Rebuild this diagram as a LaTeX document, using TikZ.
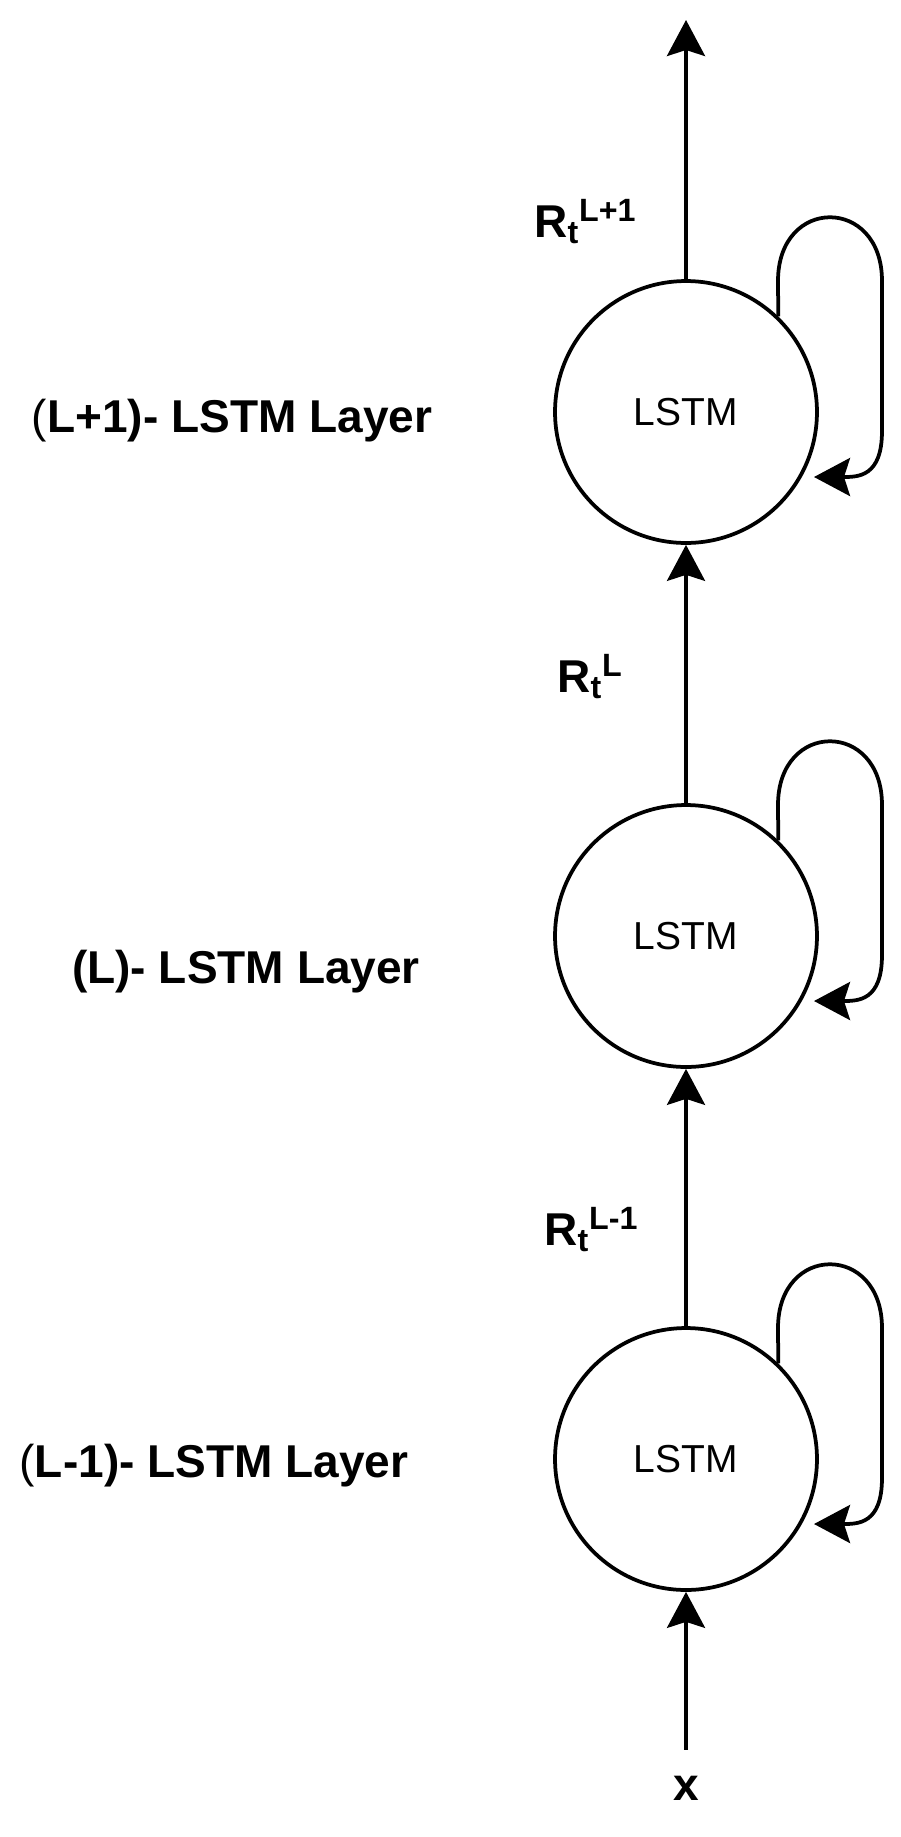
\documentclass[tikz,border=0pt]{standalone}
\usepackage{fontspec}
\setmainfont{Liberation Sans}
\usetikzlibrary{arrows.meta,calc}

\begin{document}
\begin{tikzpicture}[x=0.02cm, y=-0.02cm,
		lstm/.style={circle, draw, line width=0.075cm, minimum size=5.24cm, inner sep=0pt, font=\fontsize{22.2pt}{26pt}\selectfont},
		layer/.style={anchor=base, inner sep=0pt, font=\fontsize{26.2pt}{30pt}\selectfont\bfseries},
		rlabel/.style={anchor=base west, inner sep=0pt, font=\fontsize{26.2pt}{30pt}\selectfont\bfseries},
		flow/.style={line width=0.075cm, -{Stealth[length=0.72cm, width=0.76cm, inset=0.12cm]}}]
			\useasboundingbox (0,0) rectangle (900,1837);

			% Draw LSTM cells
			\node[lstm] (low) at (686,1459) {LSTM};
			\node[lstm] (mid) at (686,936) {LSTM};
			\node[lstm] (up) at (686,412) {LSTM};

			% Draw input and output
			\node[inner sep=0.52cm, font=\fontsize{26.2pt}{30pt}\selectfont\bfseries] (in) at (686,1788) {x};
			\coordinate (out) at (686,20);

			% Draw layer names
			\node[layer] (uplabel) at (232,432) {{\mdseries(}L+1)- LSTM Layer};
			\node[layer] (midlabel) at (246,983) {(L)- LSTM Layer};
			\node[layer] (lowlabel) at (214,1477) {{\mdseries(}L-1)- LSTM Layer};

			% Draw outputs of the layers
			\node[rlabel] (rup) at (534,237) {R\textsubscript{t}\textsuperscript{L+1}};
			\node[rlabel] (rmid) at (557,692) {R\textsubscript{t}\textsuperscript{L}};
			\node[rlabel] (rlow) at (544,1245) {R\textsubscript{t}\textsuperscript{L-1}};

			% Draw arrows between layers
			\draw[flow] (in.north) -- (low.south);
			\draw[flow] (low.north) -- (mid.south);
			\draw[flow] (mid.north) -- (up.south);
			\draw[flow] (up.north) -- (out);

			% Draw recurrent loops
			\foreach \n in {low,mid,up}
				\draw[flow] (\n.46) -- ($(\n)+(92,-131)$)
					.. controls ($(\n)+(92,-216)$) and ($(\n)+(196,-216)$) .. ($(\n)+(196,-131)$)
					-- ($(\n)+(196,19)$)
					.. controls ($(\n)+(196,65)$) and ($(\n)+(172,65)$) .. ($(\n)+(128,65)$);
		\end{tikzpicture}
\end{document}
